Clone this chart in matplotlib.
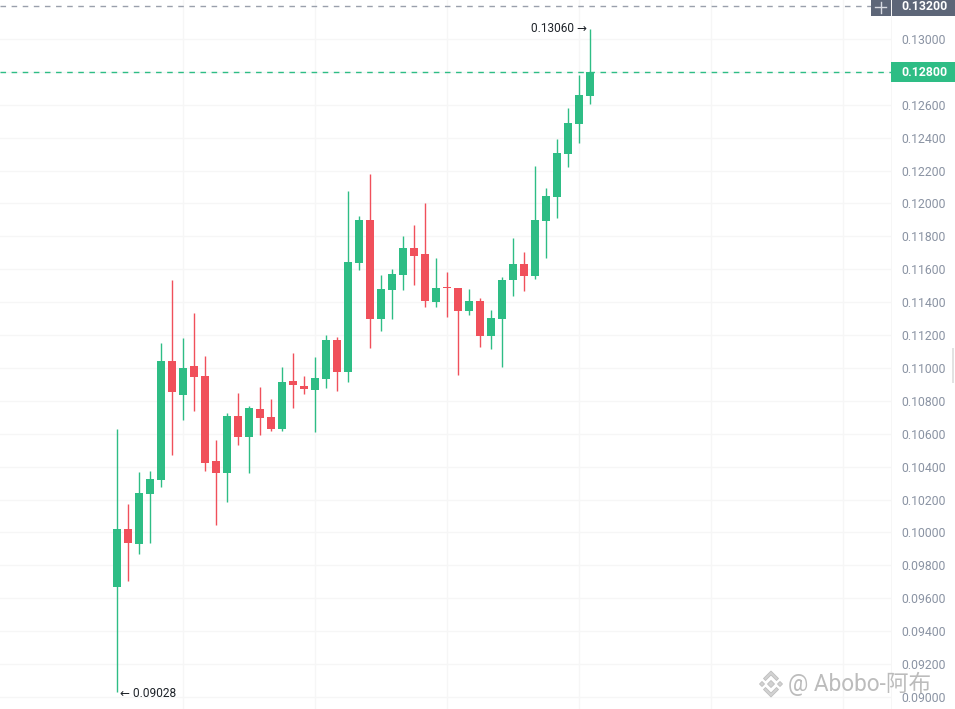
import numpy as np
import matplotlib
matplotlib.use("Agg")
import matplotlib.pyplot as plt
from matplotlib.patches import Rectangle, Polygon

# Datos OHLC
opens = [0.09671, 0.10021, 0.09932, 0.10236, 0.10321, 0.11042, 0.10837, 0.11012, 0.10951, 0.10435,
         0.10363, 0.10708, 0.10582, 0.10751, 0.10702, 0.10631, 0.10921, 0.10890, 0.10868, 0.10935,
         0.11170, 0.10977, 0.11640, 0.11899, 0.11299, 0.11476, 0.11565, 0.11729, 0.11693, 0.11401,
         0.11494, 0.11486, 0.11348, 0.11407, 0.11196, 0.11300, 0.11536, 0.11632, 0.11561, 0.11895,
         0.12041, 0.12302, 0.12485, 0.12655]
highs = [0.10629, 0.10173, 0.10366, 0.10372, 0.11152, 0.11533, 0.11182, 0.11334, 0.11073, 0.10562,
         0.10726, 0.10848, 0.10769, 0.10884, 0.10811, 0.11006, 0.11091, 0.10951, 0.11067, 0.11202,
         0.11186, 0.12074, 0.11924, 0.12179, 0.11563, 0.11601, 0.11802, 0.11869, 0.12001, 0.11670,
         0.11581, 0.11486, 0.11478, 0.11423, 0.11352, 0.11555, 0.11788, 0.11703, 0.12226, 0.12096,
         0.12393, 0.12582, 0.12779, 0.13060]
lows = [0.09028, 0.09707, 0.09871, 0.09938, 0.10278, 0.10469, 0.10686, 0.10740, 0.10376, 0.10047,
        0.10187, 0.10534, 0.10363, 0.10593, 0.10619, 0.10619, 0.10757, 0.10842, 0.10609, 0.10878,
        0.10860, 0.10917, 0.11597, 0.11123, 0.11226, 0.11298, 0.11476, 0.11504, 0.11371, 0.11371,
        0.11308, 0.10957, 0.11320, 0.11129, 0.11113, 0.11008, 0.11439, 0.11468, 0.11539, 0.11667,
        0.11910, 0.12223, 0.12365, 0.12603]
closes = [0.10021, 0.09938, 0.10240, 0.10325, 0.11042, 0.10856, 0.11000, 0.10947, 0.10424, 0.10363,
          0.10708, 0.10582, 0.10757, 0.10698, 0.10631, 0.10915, 0.10898, 0.10874, 0.10939, 0.11170,
          0.10977, 0.11644, 0.11899, 0.11299, 0.11480, 0.11571, 0.11729, 0.11681, 0.11407, 0.11486,
          0.11484, 0.11348, 0.11407, 0.11196, 0.11304, 0.11535, 0.11632, 0.11561, 0.11899, 0.12045,
          0.12307, 0.12489, 0.12659, 0.12800]

precio_actual = 0.12800
precio_cruz = 0.13200
ticks_precio = [0.090 + 0.002 * k for k in range(21)]

VERDE = "#2ebd85"
ROJO = "#f0505b"
GRIS = "#8a93a3"
FUENTE = ["Roboto", "DejaVu Sans"]

W, H = 955, 709
fig = plt.figure(figsize=(W / 100, H / 100), dpi=100)
fig.patch.set_facecolor("white")
ax = fig.add_axes([0, 0, 891 / W, 1])

x = np.arange(len(opens))
o = np.array(opens)
c = np.array(closes)
sube = c >= o
colores = np.where(sube, VERDE, ROJO)

# Mechas y cuerpos
ax.vlines(x, lows, highs, colors=colores, linewidth=1.0, zorder=3)
ax.bar(x, np.abs(c - o), bottom=np.minimum(o, c), width=0.72, color=colores,
       linewidth=0, zorder=4)

ax.set_xlim(-10.66, 70.34)
ax.set_ylim(0.089272, 0.132365)

# Rejilla
for yy in ticks_precio:
    ax.axhline(yy, color="#f6f6f6", linewidth=1.0, zorder=0)
for xx in [6, 18, 30, 42, 54, 66]:
    ax.axvline(xx, color="#f6f6f6", linewidth=1.0, zorder=0)

for s in ax.spines.values():
    s.set_visible(False)
ax.set_xticks([])
ax.yaxis.tick_right()
ax.set_yticks(ticks_precio)
ax.set_yticklabels([f"{t:.5f}" for t in ticks_precio])
ax.tick_params(axis="y", length=0, pad=7.5, labelsize=8.8, labelcolor=GRIS)
for lab in ax.get_yticklabels():
    lab.set_fontfamily("Roboto")

# Lineas de precio
ax.axhline(precio_actual, color=VERDE, linewidth=1.0, linestyle=(0, (4, 4)), zorder=5)
ax.plot([-10.66, (871 - 117.3) / 11], [precio_cruz, precio_cruz], color="#9aa0ac",
        linewidth=1.0, linestyle=(0, (4, 4)), zorder=5)

# Etiquetas de maximo y minimo
i_max = int(np.argmax(highs))
i_min = int(np.argmin(lows))
ax.annotate(f"{highs[i_max]:.5f} →", xy=(i_max, highs[i_max]), xytext=(-3, 1),
            textcoords="offset pixels", ha="right", va="center", fontsize=8.6,
            color="#1e2329", family=FUENTE, zorder=6)
ax.annotate(f"← {lows[i_min]:.5f}", xy=(i_min, lows[i_min]), xytext=(3, -1),
            textcoords="offset pixels", ha="left", va="center", fontsize=8.6,
            color="#1e2329", family=FUENTE, zorder=6)


# Cajas del eje de precios (coordenadas de figura)
def fx(px):
    return px / W


def fy(py):
    return 1 - py / H


def caja(x0, y0, x1, y1, color, z=10):
    fig.patches.append(Rectangle((fx(x0), fy(y1)), fx(x1 - x0), (y1 - y0) / H,
                                 transform=fig.transFigure, facecolor=color,
                                 edgecolor="none", zorder=z))


caja(891, 62, 955, 82, VERDE)
fig.text(fx(901), fy(72), f"{precio_actual:.5f}", color="white", fontsize=8.8,
         fontweight="bold", family="Roboto", va="center", ha="left", zorder=11)

caja(871, 0, 890.5, 15.7, "#5d6678")
caja(891.7, 0, 955, 15.7, "#5d6678")
fig.add_artist(plt.Line2D([fx(875), fx(886)], [fy(7), fy(7)], transform=fig.transFigure,
                          color="#d8dbe2", linewidth=1.0, zorder=11))
fig.add_artist(plt.Line2D([fx(880.5), fx(880.5)], [fy(1.5), fy(12.5)], transform=fig.transFigure,
                          color="#d8dbe2", linewidth=1.0, zorder=11))
fig.text(fx(901), fy(6), f"{precio_cruz:.5f}", color="white", fontsize=8.8,
         fontweight="bold", family="Roboto", va="center", ha="left", zorder=11)

# Linea separadora y barra de desplazamiento
caja(891, 0, 892, 709, "#f6f6f6", z=1)
caja(952, 348, 954, 383, "#e2e2e2", z=1)

# Marca de agua (logo aproximado con poligonos)
cx, cy = 771, 684
formas = [
    [(0, -3.5), (3.5, 0), (0, 3.5), (-3.5, 0)],
    [(-9, -2.5), (-6.5, 0), (-9, 2.5), (-11.5, 0)],
    [(9, -2.5), (11.5, 0), (9, 2.5), (6.5, 0)],
    [(0, -13), (7.5, -5.5), (5.5, -3.5), (0, -9), (-5.5, -3.5), (-7.5, -5.5)],
    [(0, 13), (7.5, 5.5), (5.5, 3.5), (0, 9), (-5.5, 3.5), (-7.5, 5.5)],
]
for f in formas:
    pts = [(fx(cx + px), fy(cy + py)) for px, py in f]
    fig.patches.append(Polygon(pts, closed=True, transform=fig.transFigure,
                               facecolor="#d2d2d2", edgecolor="#bdbdbd", linewidth=0.6,
                               zorder=12))
fig.text(fx(788), fy(684), "@ Abobo-阿布", color="#bcbcbc", fontsize=16.3,
         family=["Roboto", "Noto Sans CJK SC"], ha="left", va="center", zorder=12)

fig.savefig("out.png", dpi=100)
